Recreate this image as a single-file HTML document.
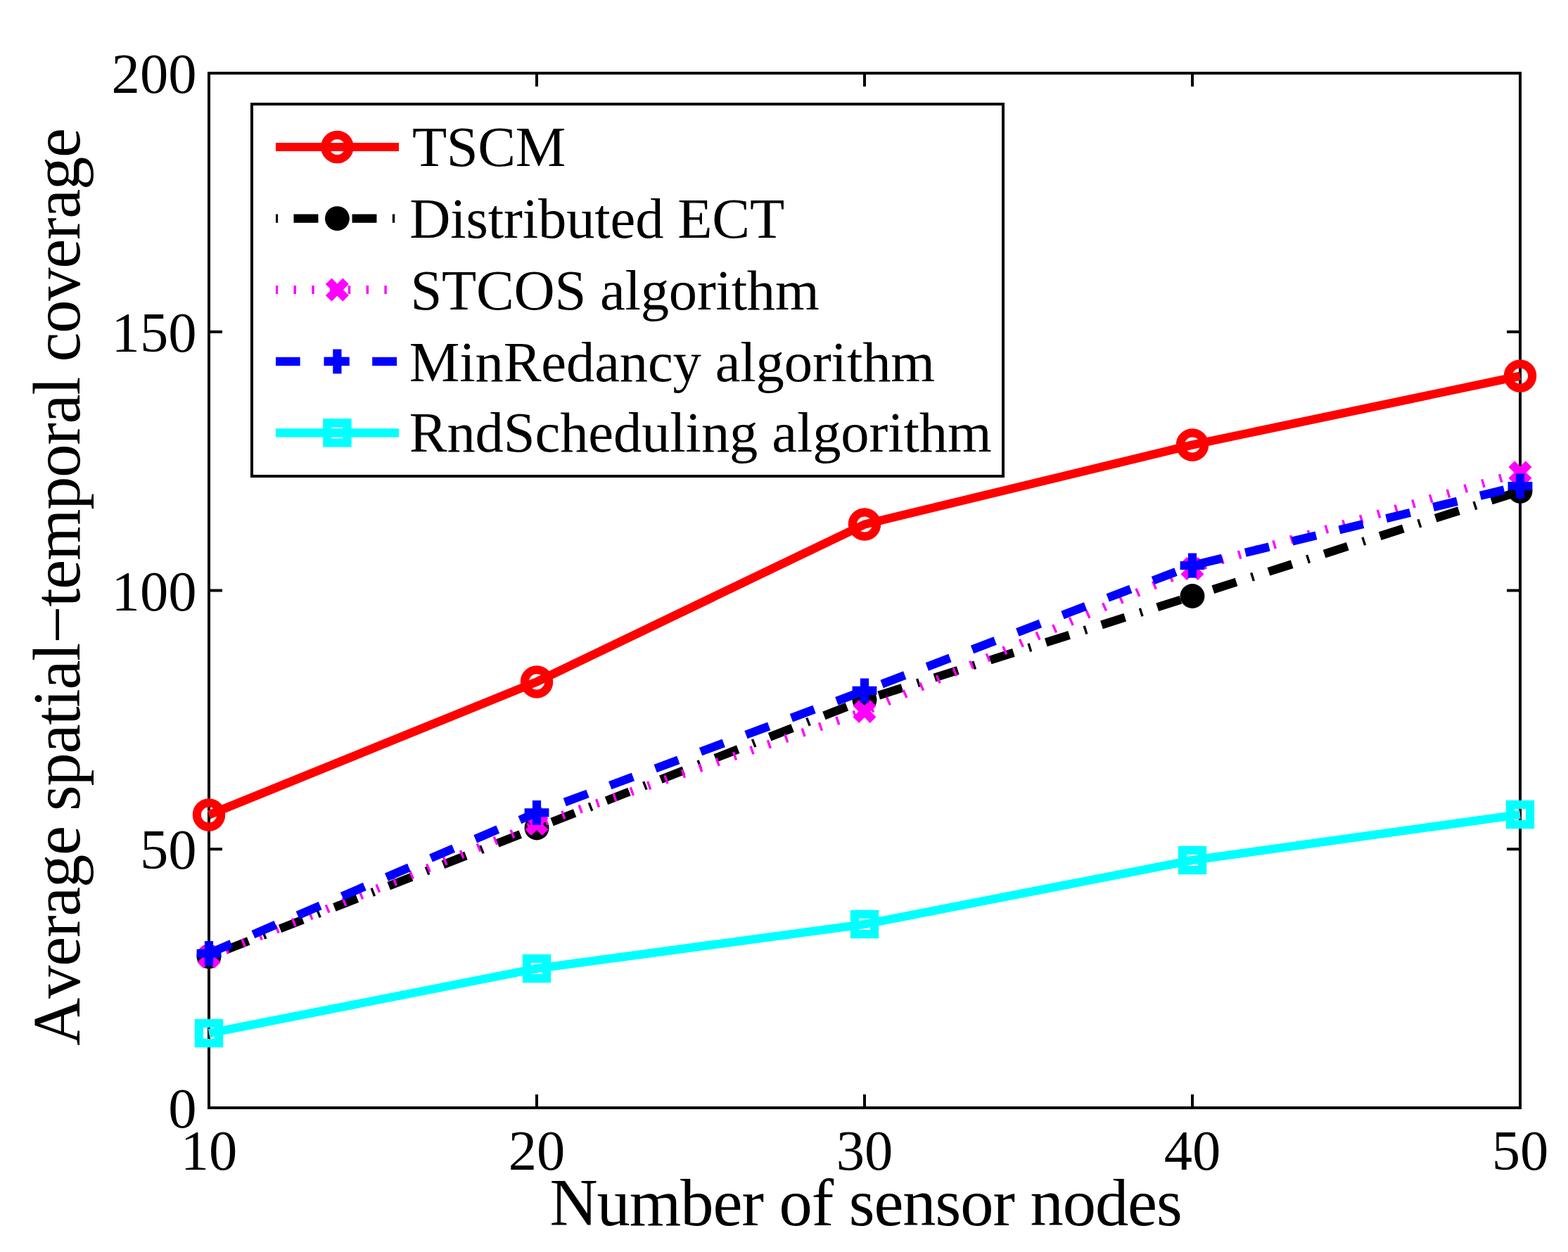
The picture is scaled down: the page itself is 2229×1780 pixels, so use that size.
<!DOCTYPE html>
<html><head><meta charset="utf-8"><title>Average spatial-temporal coverage vs number of sensor nodes</title>
<style>
html,body{margin:0;padding:0;background:#fff;}
svg{display:block;}
text{font-family:"Liberation Serif","Times New Roman",serif;fill:#000;font-kerning:none;font-feature-settings:"kern" 0;}
</style></head>
<body>
<svg width="2229" height="1780" viewBox="0 0 2229 1780">
<rect width="2229" height="1780" fill="#fff"/>
<rect x="297" y="104" width="1864" height="1471" fill="none" stroke="#000" stroke-width="4"/>
<path d="M297,1575V1556M297,104V123M763,1575V1556M763,104V123M1229,1575V1556M1229,104V123M1695,1575V1556M1695,104V123M2161,1575V1556M2161,104V123M297,1575.0H316M2161,1575.0H2142M297,1207.25H316M2161,1207.25H2142M297,839.5H316M2161,839.5H2142M297,471.75H316M2161,471.75H2142M297,104.0H316M2161,104.0H2142" stroke="#000" stroke-width="4" fill="none"/>
<polyline points="297,1158.5 763,969.4 1229,745.5 1695,632.5 2161,534.5" fill="none" stroke="#ff0000" stroke-width="12.2"/>
<circle cx="297" cy="1158.5" r="17.15" fill="none" stroke="#ff0000" stroke-width="12.2"/>
<circle cx="763" cy="969.4" r="17.15" fill="none" stroke="#ff0000" stroke-width="12.2"/>
<circle cx="1229" cy="745.5" r="17.15" fill="none" stroke="#ff0000" stroke-width="12.2"/>
<circle cx="1695" cy="632.5" r="17.15" fill="none" stroke="#ff0000" stroke-width="12.2"/>
<circle cx="2161" cy="534.5" r="17.15" fill="none" stroke="#ff0000" stroke-width="12.2"/>
<polyline points="297,1360.0 763,1177.0 1229,995.0 1695,847.5 2161,698.3" fill="none" stroke="#000000" stroke-width="12.2" stroke-dasharray="3.4 22.38 34.9 22.376" stroke-dashoffset="0.27"/>
<circle cx="297" cy="1360.0" r="17.45" fill="#000000"/>
<circle cx="763" cy="1177.0" r="17.45" fill="#000000"/>
<circle cx="1229" cy="995.0" r="17.45" fill="#000000"/>
<circle cx="1695" cy="847.5" r="17.45" fill="#000000"/>
<circle cx="2161" cy="698.3" r="17.45" fill="#000000"/>
<polyline points="297,1360.3 763,1171.6 1229,1011.5 1695,808.4 2161,671.8" fill="none" stroke="#ff00ff" stroke-width="12.2" stroke-dasharray="3.4 22.376" stroke-dashoffset="0.27"/>
<path d="M284.80,1348.10L309.20,1372.50M284.80,1372.50L309.20,1348.10" stroke="#ff00ff" stroke-width="12.2" fill="none"/>
<path d="M750.80,1159.40L775.20,1183.80M750.80,1183.80L775.20,1159.40" stroke="#ff00ff" stroke-width="12.2" fill="none"/>
<path d="M1216.80,999.30L1241.20,1023.70M1216.80,1023.70L1241.20,999.30" stroke="#ff00ff" stroke-width="12.2" fill="none"/>
<path d="M1682.80,796.20L1707.20,820.60M1682.80,820.60L1707.20,796.20" stroke="#ff00ff" stroke-width="12.2" fill="none"/>
<path d="M2148.80,659.60L2173.20,684.00M2148.80,684.00L2173.20,659.60" stroke="#ff00ff" stroke-width="12.2" fill="none"/>
<polyline points="297,1355.5 763,1155.4 1229,981.9 1695,804.0 2161,691.0" fill="none" stroke="#0000ff" stroke-width="12.2" stroke-dasharray="34.9 33.836" stroke-dashoffset="0.27"/>
<path d="M279.60,1355.50H314.40M297.00,1338.10V1372.90" stroke="#0000ff" stroke-width="12.2" fill="none"/>
<path d="M745.60,1155.40H780.40M763.00,1138.00V1172.80" stroke="#0000ff" stroke-width="12.2" fill="none"/>
<path d="M1211.60,981.90H1246.40M1229.00,964.50V999.30" stroke="#0000ff" stroke-width="12.2" fill="none"/>
<path d="M1677.60,804.00H1712.40M1695.00,786.60V821.40" stroke="#0000ff" stroke-width="12.2" fill="none"/>
<path d="M2143.60,691.00H2178.40M2161.00,673.60V708.40" stroke="#0000ff" stroke-width="12.2" fill="none"/>
<polyline points="297,1469.0 763,1377.0 1229,1314.0 1695,1223.0 2161,1158.0" fill="none" stroke="#00ffff" stroke-width="12.2"/>
<rect x="282.90" y="1454.90" width="28.20" height="28.20" fill="none" stroke="#00ffff" stroke-width="12.2"/>
<rect x="748.90" y="1362.90" width="28.20" height="28.20" fill="none" stroke="#00ffff" stroke-width="12.2"/>
<rect x="1214.90" y="1299.90" width="28.20" height="28.20" fill="none" stroke="#00ffff" stroke-width="12.2"/>
<rect x="1680.90" y="1208.90" width="28.20" height="28.20" fill="none" stroke="#00ffff" stroke-width="12.2"/>
<rect x="2146.90" y="1143.90" width="28.20" height="28.20" fill="none" stroke="#00ffff" stroke-width="12.2"/>
<g font-size="80.6"><text x="297" y="1663" text-anchor="middle">10</text><text x="763" y="1663" text-anchor="middle">20</text><text x="1229" y="1663" text-anchor="middle">30</text><text x="1695" y="1663" text-anchor="middle">40</text><text x="2161" y="1663" text-anchor="middle">50</text><text x="279.5" y="1603.0" text-anchor="end">0</text><text x="279.5" y="1235.2" text-anchor="end">50</text><text x="279.5" y="867.5" text-anchor="end">100</text><text x="279.5" y="499.8" text-anchor="end">150</text><text x="279.5" y="132.0" text-anchor="end">200</text></g>
<text x="1231.1" y="1741.5" font-size="94.5" text-anchor="middle" textLength="899.4" lengthAdjust="spacing">Number of sensor nodes</text>
<text transform="translate(112.7,834.4) rotate(-90)" font-size="94.5" text-anchor="middle" textLength="1304.7" lengthAdjust="spacing">Average spatial&#8722;temporal coverage</text>
<rect x="358" y="148" width="1068" height="529" fill="#fff" stroke="#000" stroke-width="4"/>
<path d="M392,209H567" stroke="#ff0000" stroke-width="12.2" fill="none"/>
<circle cx="479.4" cy="209" r="17.15" fill="none" stroke="#ff0000" stroke-width="12.2"/>
<text x="585.9" y="236.1" font-size="80.6" textLength="218.6" lengthAdjust="spacing">TSCM</text>
<path d="M392,310.6H567" stroke="#000000" stroke-width="12.2" fill="none" stroke-dasharray="3.4 22.38 34.9 22.376" stroke-dashoffset="0.27"/>
<circle cx="479.4" cy="310.6" r="17.45" fill="#000000"/>
<text x="582.3" y="338.0" font-size="80.6" textLength="532.9" lengthAdjust="spacing">Distributed ECT</text>
<path d="M392,412H567" stroke="#ff00ff" stroke-width="12.2" fill="none" stroke-dasharray="3.4 22.376" stroke-dashoffset="0.27"/>
<path d="M467.20,399.80L491.60,424.20M467.20,424.20L491.60,399.80" stroke="#ff00ff" stroke-width="12.2" fill="none"/>
<text x="583.5" y="440.4" font-size="80.6" textLength="581.1" lengthAdjust="spacing">STCOS algorithm</text>
<path d="M392,513.9H567" stroke="#0000ff" stroke-width="12.2" fill="none" stroke-dasharray="34.9 33.836" stroke-dashoffset="0.27"/>
<path d="M462.00,513.90H496.80M479.40,496.50V531.30" stroke="#0000ff" stroke-width="12.2" fill="none"/>
<text x="581.8" y="541.7" font-size="80.6" textLength="747.2" lengthAdjust="spacing">MinRedancy algorithm</text>
<path d="M392,615.4H567" stroke="#00ffff" stroke-width="12.2" fill="none"/>
<rect x="465.30" y="601.30" width="28.20" height="28.20" fill="none" stroke="#00ffff" stroke-width="12.2"/>
<text x="581.8" y="642.4" font-size="80.6" textLength="827.9" lengthAdjust="spacing">RndScheduling algorithm</text>
</svg>
</body></html>
